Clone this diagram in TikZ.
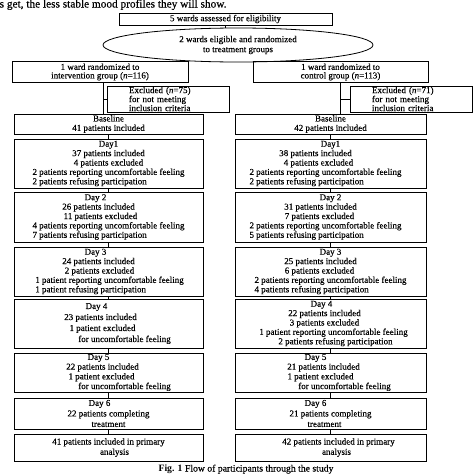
\documentclass[tikz,border=0pt]{standalone}
\usepackage{fontspec}
\setmainfont{Liberation Serif}[UprightFeatures={FakeBold=0.3},ItalicFeatures={FakeBold=0.3}]
\usetikzlibrary{shapes.geometric}
\newcommand\leftin[2]{\rlap{#2}\phantom{#1}}
\newcommand\sh[2]{\hbox{\kern#1\relax#2}}
\begin{document}
\begin{tikzpicture}[x=1pt,y=-1pt,
  box/.style={draw, line width=0.8pt, inner sep=0pt, align=center, font=\fontsize{9}{9.4}\selectfont},
  lcol/.style={box, minimum width=189pt},
  rcol/.style={box, minimum width=191pt},
  exbox/.style={draw, line width=0.8pt, inner xsep=22pt, inner ysep=0pt, text width=78pt, minimum height=26pt, align=left, font=\fontsize{9}{9}\selectfont},
  conn/.style={line width=0.7pt}]
\useasboundingbox (0,0) rectangle (474,474);

% running text cut at top
\node[anchor=base west, inner sep=0pt, font=\fontsize{11.3}{12}\selectfont] (runtext) at (-0.5,7.5) {s get, the less stable mood profiles they will show.};

% top part
\node[box, minimum width=213pt, minimum height=12pt] (top) at (225.5,19) {5 wards assessed for eligibility};
\node[draw, ellipse, line width=0.8pt, minimum width=270pt, minimum height=34pt, inner sep=0pt, align=center, font=\fontsize{9}{10}\selectfont] (ell) at (238,45) {2 wards eligible and randomized\\to treatment groups};
\draw[conn] (top.south) -- (top.south |- ell.north);

\node[box, minimum width=176pt, minimum height=21pt, font=\fontsize{9}{8.5}\selectfont] (wl) at (100,72) {1 ward randomized to\\intervention group (\textit{n}=116)};
\node[box, minimum width=175pt, minimum height=21pt, font=\fontsize{9}{8.5}\selectfont] (wr) at (340.5,72) {1 ward randomized to\\control group (\textit{n}=113)};

\node[exbox] (exl) at (168,99) {Excluded (\textit{n}=75)\\for not meeting\\inclusion criteria};
\node[exbox] (exr) at (411,99) {Excluded (\textit{n}=71)\\for not meeting\\inclusion criteria};

% left column
\node[lcol, minimum height=20pt] (bl) at (108.5,124) {Baseline\\41 patients included};
\node[lcol, minimum height=49pt] (d1l) at (108.5,163.5) {Day1\\37 patients included\\4 patients excluded\\2 patients reporting uncomfortable feeling\\\leftin{2 patients reporting uncomfortable feeling}{2 patients refusing participation}};
\node[lcol, minimum height=50pt] (d2l) at (108.5,217) {\sh{-26pt}{Day 2}\\\sh{-20pt}{26 patients included}\\\sh{-16pt}{11 patients excluded}\\4 patients reporting uncomfortable feeling\\\leftin{4 patients reporting uncomfortable feeling}{7 patients refusing participation}};
\node[lcol, minimum height=49pt] (d3l) at (108.5,271.5) {\sh{-26pt}{Day 3}\\\sh{-20pt}{24 patients included}\\\sh{-18pt}{2 patients excluded}\\\sh{2pt}{1 patient reporting uncomfortable feeling}\\\sh{2pt}{\leftin{1 patient reporting uncomfortable feeling}{1 patient refusing participation}}};
\node[lcol, minimum height=49pt, font=\fontsize{9}{11}\selectfont] (d4l) at (108.5,323.5) {\sh{-24pt}{Day 4}\\\sh{-16pt}{23 patients included}\\\sh{-12pt}{1 patient excluded}\\\sh{32pt}{for uncomfortable feeling}};
\node[lcol, minimum height=39pt, font=\fontsize{9}{9.7}\selectfont] (d5l) at (108.5,372.5) {\sh{-20pt}{Day 5}\\\sh{-12pt}{22 patients included}\\\sh{-14pt}{1 patient excluded}\\\sh{32pt}{for uncomfortable feeling}};
\node[lcol, minimum height=31pt, font=\fontsize{9}{10.5}\selectfont] (d6l) at (108.5,413.5) {\sh{-18pt}{Day 6}\\22 patients completing\\treatment};
\node[lcol, minimum height=27pt, font=\fontsize{9}{10.3}\selectfont] (fl) at (108.5,447.5) {41 patients included in primary\\\sh{12pt}{analysis}};

% right column
\node[rcol, minimum height=20pt] (br) at (330.5,124) {Baseline\\42 patients included};
\node[rcol, minimum height=49pt] (d1r) at (330.5,163.5) {Day1\\\sh{-30pt}{38 patients included}\\\sh{-24pt}{4 patients excluded}\\\sh{-10pt}{2 patients reporting uncomfortable feeling}\\\sh{-10pt}{\leftin{2 patients reporting uncomfortable feeling}{2 patients refusing participation}}};
\node[rcol, minimum height=50pt] (d2r) at (330.5,217) {Day 2\\\sh{-20pt}{31 patients included}\\\sh{-22pt}{7 patients excluded}\\\sh{-10pt}{2 patients reporting uncomfortable feeling}\\\sh{-10pt}{\leftin{2 patients reporting uncomfortable feeling}{5 patients refusing participation}}};
\node[rcol, minimum height=49pt] (d3r) at (330.5,271.5) {Day 3\\\sh{-20pt}{25 patients included}\\\sh{-22pt}{6 patients excluded}\\2 patients reporting uncomfortable feeling\\\leftin{2 patients reporting uncomfortable feeling}{4 patients refusing participation}};
\node[rcol, minimum height=49pt] (d4r) at (330.5,323.5) {\sh{-18pt}{Day 4}\\\sh{-12pt}{22 patients included}\\\sh{-12pt}{3 patients excluded}\\\sh{6pt}{1 patient reporting uncomfortable feeling}\\\sh{10pt}{2 patients refusing participation}};
\node[rcol, minimum height=39pt, font=\fontsize{9}{9.7}\selectfont] (d5r) at (330.5,372.5) {\sh{-30pt}{Day 5}\\\sh{-14pt}{21 patients included}\\\sh{-20pt}{1 patient excluded}\\\sh{28pt}{for uncomfortable feeling}};
\node[rcol, minimum height=31pt, font=\fontsize{9}{10.5}\selectfont] (d6r) at (330.5,413.5) {\sh{-30pt}{Day 6}\\21 patients completing\\\sh{-12pt}{treatment}};
\node[rcol, minimum height=27pt, font=\fontsize{9}{10.3}\selectfont] (fr) at (330.5,447.5) {\sh{16pt}{42 patients included in primary}\\\sh{12pt}{analysis}};

% connectors from ward boxes
\coordinate (lA) at ([xshift=3pt]wl.south);
\draw[conn] (lA) -- (lA |- bl.north);
\draw[conn] (lA |- exl.west) -- (exl.west);
\draw[conn] (wr.south) -- (wr.south |- br.north);
\draw[conn] (wr.south |- exr.west) -- (exr.west);

% column connectors
\foreach \a/\b in {bl/d1l, d1l/d2l, d2l/d3l, d3l/d4l, d4l/d5l, d5l/d6l, d6l/fl,
                   br/d1r, d1r/d2r, d2r/d3r, d3r/d4r, d4r/d5r, d5r/d6r, d6r/fr}
  \draw[conn] (\a.south) -- (\b.north);

% caption
\node[anchor=base, inner sep=0pt, font=\fontsize{9.7}{11}\selectfont] (cap) at (246,471.5) {\textbf{Fig. 1} Flow of participants through the study};
\end{tikzpicture}
\end{document}
